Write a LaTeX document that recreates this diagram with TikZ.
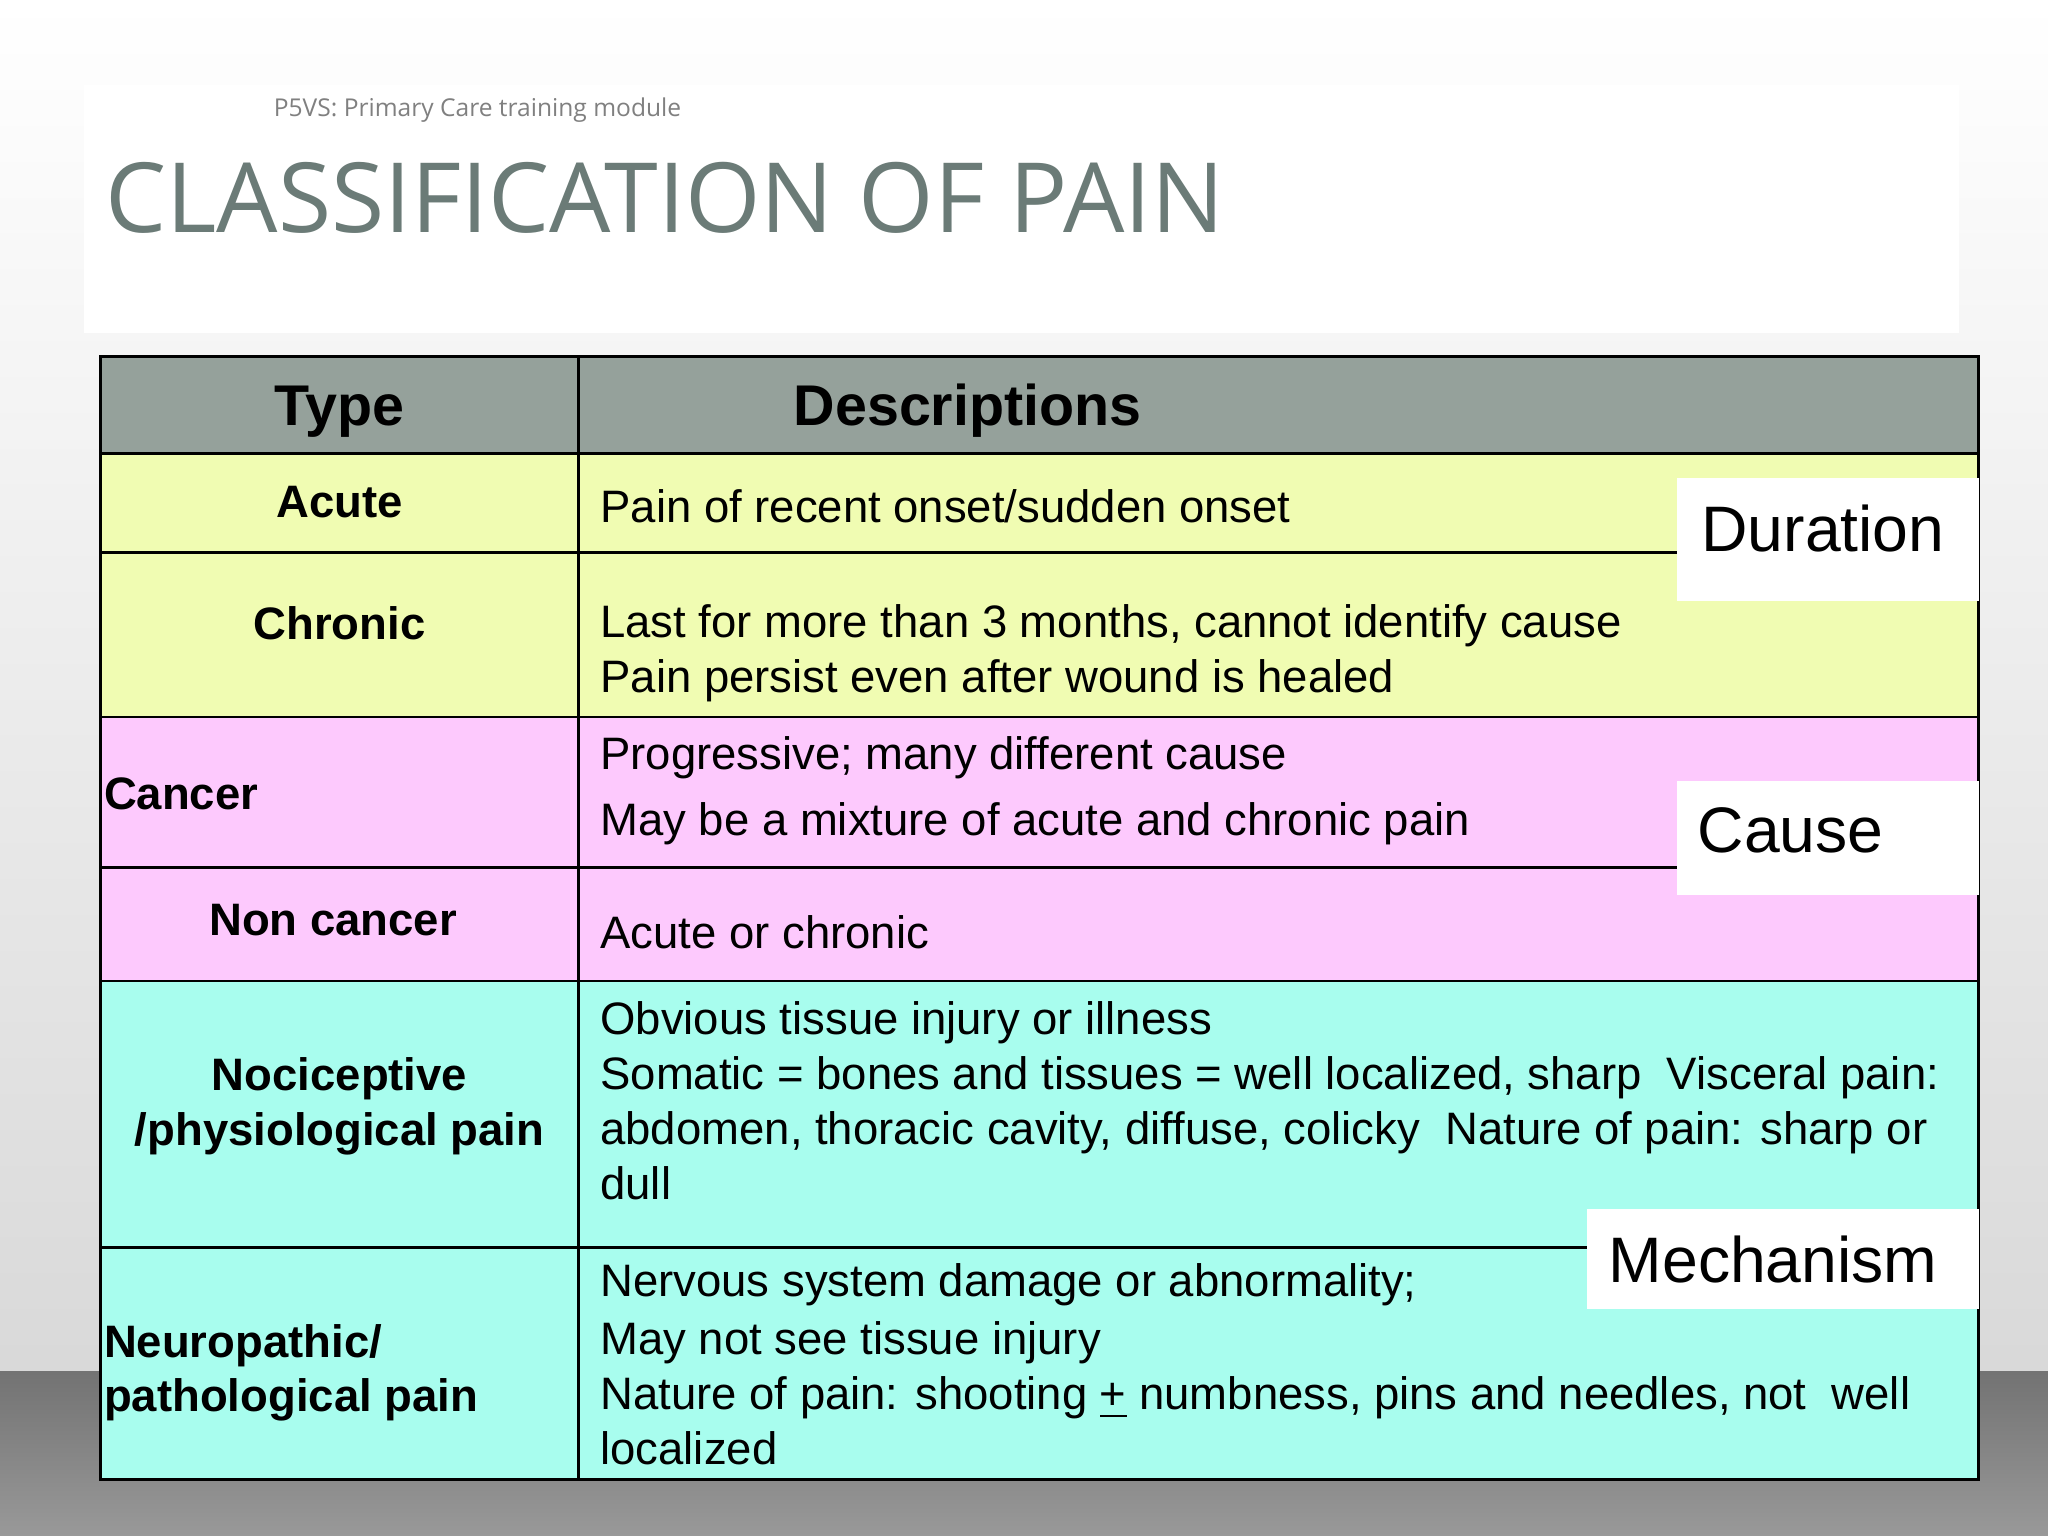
\documentclass[tikz,border=0pt]{standalone}
\usepackage{fontspec}
\setmainfont{Liberation Sans}
\newfontfamily\osans{Open Sans}
\begin{document}
\begin{tikzpicture}[x=0.01cm,y=-0.01cm,
  tx/.style={font=\fontsize{9.9}{12}\selectfont,anchor=base west,inner sep=0},
  hd/.style={font=\fontsize{9.9}{12}\selectfont\bfseries,anchor=base,inner sep=0},
  hdl/.style={font=\fontsize{9.9}{12}\selectfont\bfseries,anchor=base west,inner sep=0},
  labt/.style={font=\fontsize{14}{16}\selectfont,anchor=base west,inner sep=0}]
\definecolor{ttl}{HTML}{6B7B77}
\definecolor{hdr}{HTML}{95A19B}
\definecolor{yel}{HTML}{F0FCB2}
\definecolor{pnk}{HTML}{FDC9FD}
\definecolor{cyn}{HTML}{A8FDEE}
\useasboundingbox (0,0) rectangle (1568,1176);
\shade[top color=white,bottom color=gray!30] (0,0) rectangle (1568,1050);
\shade[top color=gray!90!black,bottom color=gray!80] (0,1050) rectangle (1568,1176);
\fill[white] (64,65) rectangle (1500,255);
\node[font=\osans\fontsize{5.35}{7}\selectfont,text=gray,anchor=base west,inner sep=0] (sub) at (209,89) {P5VS: Primary Care training module};
\node[font=\osans\fontsize{21.1}{26}\selectfont,text=ttl,anchor=base west,inner sep=0] (title) at (80,178) {CLASSIFICATION OF PAIN};
\fill[hdr] (77,273) rectangle (1515,347);
\fill[yel] (77,347) rectangle (1515,549);
\fill[pnk] (77,549) rectangle (1515,751);
\fill[cyn] (77,751) rectangle (1515,1133);
\draw[line width=0.6pt] (77,273) rectangle (1515,1133);
\foreach \yy in {347,423,549,664,751,955} \draw[line width=0.6pt] (77,\yy) -- (1515,\yy);
\draw[line width=0.6pt] (443,273) -- (443,1133);
\node[font=\fontsize{12.5}{14}\selectfont\bfseries,anchor=base,inner sep=0] (type) at (260,326) {Type};
\node[font=\fontsize{12.5}{14}\selectfont\bfseries,anchor=base west,inner sep=0] (desc) at (607,326) {Descriptions};
\node[hd] (acute) at (260,396) {Acute};
\node[hd] (chronic) at (260,490) {Chronic};
\node[hdl] (cancer) at (79,620) {Cancer};
\node[hd] (noncancer) at (255,716) {Non cancer};
\node[hd] (noc1) at (260,835) {Nociceptive};
\node[hd] (noc2) at (260,877) {/physiological pain};
\node[hdl] (neu1) at (79,1039) {Neuropathic/};
\node[hdl] (neu2) at (79,1081) {pathological pain};
\node[tx] (d1) at (459,400) {Pain of recent onset/sudden onset};
\node[tx] (d2) at (459,488) {Last for more than 3 months, cannot identify cause};
\node[tx] (d3) at (459,530) {Pain persist even after wound is healed};
\node[tx] (d4) at (459,589) {Progressive; many different cause};
\node[tx] (d5) at (459,640) {May be a mixture of acute and chronic pain};
\node[tx] (d6) at (459,726) {Acute or chronic};
\node[tx] (d7) at (459,792) {Obvious tissue injury or illness};
\node[tx] (d8) at (459,834) {Somatic = bones and tissues = well localized, sharp\ \ Visceral pain:};
\node[tx] (d9) at (459,876) {abdomen, thoracic cavity, diffuse, colicky\ \ Nature of pain: sharp or};
\node[tx] (d10) at (459,918) {dull};
\node[tx] (e1) at (459,993) {Nervous system damage or abnormality;};
\node[tx] (e2) at (459,1037) {May not see tissue injury};
\node[tx] (e3) at (459,1079) {Nature of pain: shooting \underline{+} numbness, pins and needles, not\ \ well};
\node[tx] (e4) at (459,1121) {localized};
\fill[white] (1284,366) rectangle (1515,460);
\node[labt] (dur) at (1302,422) {Duration};
\fill[white] (1284,598) rectangle (1515,685);
\node[labt] (cause) at (1299,653) {Cause};
\fill[white] (1215,926) rectangle (1515,1002);
\node[labt] (mech) at (1231,982) {Mechanism};
\end{tikzpicture}
\end{document}
